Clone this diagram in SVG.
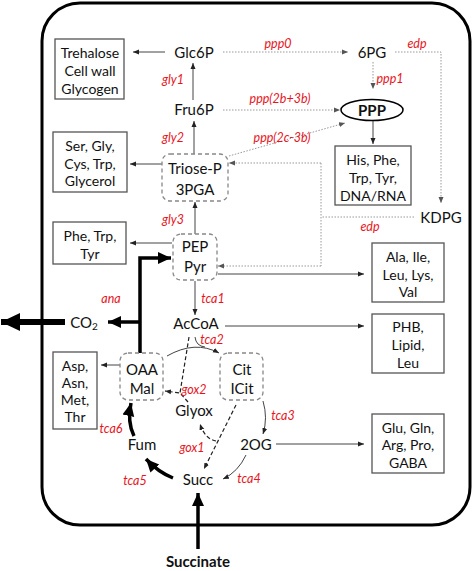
<svg xmlns="http://www.w3.org/2000/svg" width="474" height="571" viewBox="0 0 474 571">
<defs>
<style>
.n{font-family:Lato,"Open Sans",sans-serif;font-size:15px;fill:#111;text-anchor:middle;dominant-baseline:central}
.b{font-family:Lato,"Open Sans",sans-serif;font-size:14px;fill:#111;text-anchor:middle;dominant-baseline:central}
.r{font-family:Lato,"Open Sans",sans-serif;font-size:12.5px;fill:#e8141c;font-style:italic;text-anchor:middle;dominant-baseline:central}
.box{fill:#fff;stroke:#555;stroke-width:1.3}
.dbox{fill:#fff;stroke:#888;stroke-width:1.3;stroke-dasharray:4,3}
.t{fill:none;stroke:#444;stroke-width:1}
.d{fill:none;stroke:#999;stroke-width:1;stroke-dasharray:1.5,1.5}
.ds{fill:none;stroke:#222;stroke-width:1.2;stroke-dasharray:4,2.5}
.k{fill:none;stroke:#000;stroke-width:3.5}
</style>
<marker id="a" markerUnits="userSpaceOnUse" markerWidth="6" markerHeight="6" refX="6" refY="3" orient="auto"><path d="M0,0.5 L6,3 L0,5.5z" fill="#222"/></marker>
<marker id="ad" markerUnits="userSpaceOnUse" markerWidth="6" markerHeight="6" refX="6" refY="3" orient="auto"><path d="M0,0.5 L6,3 L0,5.5z" fill="#555"/></marker>
<marker id="ak" markerUnits="userSpaceOnUse" markerWidth="14" markerHeight="14" refX="13" refY="7" orient="auto"><path d="M0,1 L13,7 L0,13z" fill="#000"/></marker>
<marker id="aK" markerUnits="userSpaceOnUse" markerWidth="20" markerHeight="20" refX="19" refY="10" orient="auto"><path d="M0,1 L19,10 L0,19z" fill="#000"/></marker>
</defs>
<rect x="42" y="3" width="428" height="522" rx="38" ry="38" fill="#fff" stroke="#000" stroke-width="3"/>

<g id="connectors">
<line class="t" x1="165" y1="52" x2="133" y2="52" marker-end="url(#a)"/>
<line class="t" x1="193" y1="100" x2="193" y2="63" marker-end="url(#a)"/>
<line class="t" x1="194" y1="154" x2="194" y2="121" marker-end="url(#a)"/>
<line class="t" x1="162" y1="164" x2="130" y2="164" marker-end="url(#a)"/>
<line class="t" x1="195" y1="234" x2="195" y2="202" marker-end="url(#a)"/>
<line class="t" x1="172" y1="243" x2="130" y2="243" marker-end="url(#a)"/>
<line class="t" x1="195" y1="281" x2="195" y2="315" marker-end="url(#a)"/>
<line class="t" x1="218" y1="274" x2="364" y2="274" marker-end="url(#a)"/>
<line class="t" x1="225" y1="326" x2="364" y2="326" marker-end="url(#a)"/>
<line class="t" x1="373" y1="121" x2="373" y2="144" marker-end="url(#a)"/>
<line class="t" x1="120" y1="365" x2="101" y2="365" marker-end="url(#a)"/>
<line class="t" x1="276" y1="444" x2="364" y2="444" marker-end="url(#a)"/>

<line class="d" x1="223" y1="52" x2="348" y2="52" marker-end="url(#ad)"/>
<polyline class="d" points="395,52 441,52 441,203" marker-end="url(#ad)"/>
<line class="d" x1="373" y1="62" x2="373" y2="89" marker-end="url(#ad)"/>
<line class="d" x1="223" y1="110" x2="340" y2="110" marker-end="url(#ad)"/>
<line class="d" x1="229" y1="156" x2="345" y2="123" marker-end="url(#ad)"/>
<line class="d" x1="414" y1="217" x2="321" y2="217"/>
<polyline class="d" points="321,163 321,266"/>
<line class="d" x1="321" y1="163" x2="229" y2="163" marker-end="url(#ad)"/>
<line class="d" x1="321" y1="266" x2="218" y2="266" marker-end="url(#ad)"/>

<path class="t" d="M167,356 Q195,340 219,353" marker-end="url(#a)"/>
<path class="t" d="M195,337 Q196,346 205,347"/>
<path class="ds" d="M189,337 L180,393"/>
<path class="ds" d="M188,402 L180,393 L165,391" marker-end="url(#a)"/>
<path class="ds" d="M236,405 L204,469" marker-end="url(#a)"/>
<path class="ds" d="M216,441 Q205,439 200,424" marker-end="url(#a)"/>
<path class="t" d="M263,401 Q268,418 263,434" marker-end="url(#a)"/>
<path class="t" d="M246,455 Q238,472 223,479" marker-end="url(#a)"/>
<path class="k" d="M173,478 Q158,472 146,459" marker-end="url(#ak)"/>
<path class="k" d="M134,436 Q127,422 131,403" marker-end="url(#ak)"/>
<polyline class="k" points="140,353 140,258 171,258" marker-end="url(#ak)"/>
<line class="k" x1="140" y1="322" x2="108" y2="322" marker-end="url(#ak)"/>
<line x1="65" y1="322" x2="1" y2="322" stroke="#000" stroke-width="6" marker-end="url(#aK)"/>
<line x1="198" y1="549" x2="198" y2="493" stroke="#000" stroke-width="3.5" marker-end="url(#ak)"/>
</g>

<g id="trehalose"><rect class="box" x="55" y="39" width="69" height="60"/><text class="b" x="90" y="52">Trehalose</text><text class="b" x="90" y="70">Cell wall</text><text class="b" x="90" y="88">Glycogen</text></g>
<g id="glc6p"><text class="n" x="194" y="52">Glc6P</text></g>
<g id="fru6p"><text class="n" x="194" y="109">Fru6P</text></g>
<g id="sixpg"><text class="n" x="372" y="52">6PG</text></g>
<g id="ppp"><ellipse cx="372" cy="110" rx="31" ry="10.5" fill="#fff" stroke="#000" stroke-width="1.5"/><text class="n" x="372" y="110" font-weight="bold">PPP</text></g>
<g id="his"><rect class="box" x="335" y="146" width="76" height="59"/><text class="b" x="373" y="159">His, Phe,</text><text class="b" x="373" y="177">Trp, Tyr,</text><text class="b" x="373" y="195">DNA/RNA</text></g>
<g id="kdpg"><text class="n" x="441" y="217">KDPG</text></g>
<g id="ser"><rect class="box" x="53" y="132" width="74" height="60"/><text class="b" x="90" y="145">Ser, Gly,</text><text class="b" x="90" y="163">Cys, Trp,</text><text class="b" x="90" y="180">Glycerol</text></g>
<g id="triose"><rect class="dbox" x="162" y="154" width="66" height="47" rx="8"/><text class="n" x="195" y="168">Triose-P</text><text class="n" x="195" y="189">3PGA</text></g>
<g id="phe"><rect class="box" x="53" y="222" width="73" height="42"/><text class="b" x="90" y="235">Phe, Trp,</text><text class="b" x="90" y="253">Tyr</text></g>
<g id="pep"><rect class="dbox" x="173" y="234" width="44" height="46" rx="8"/><text class="n" x="195" y="246">PEP</text><text class="n" x="195" y="266">Pyr</text></g>
<g id="ala"><rect class="box" x="372" y="243" width="72" height="59"/><text class="b" x="408" y="256">Ala, Ile,</text><text class="b" x="408" y="274">Leu, Lys,</text><text class="b" x="408" y="291">Val</text></g>
<g id="co2"><text class="n" x="84" y="322">CO<tspan font-size="10" dy="4">2</tspan></text></g>
<g id="accoa"><text class="n" x="196" y="323">AcCoA</text></g>
<g id="phb"><rect class="box" x="372" y="314" width="72" height="59"/><text class="b" x="408" y="326">PHB,</text><text class="b" x="408" y="344">Lipid,</text><text class="b" x="408" y="362">Leu</text></g>
<g id="asp"><rect class="box" x="53" y="352" width="44" height="77"/><text class="b" x="75" y="365">Asp,</text><text class="b" x="75" y="382">Asn,</text><text class="b" x="75" y="399">Met,</text><text class="b" x="75" y="416">Thr</text></g>
<g id="oaa"><rect class="dbox" x="120" y="353" width="43" height="47" rx="8"/><text class="n" x="142" y="369">OAA</text><text class="n" x="142" y="388">Mal</text></g>
<g id="cit"><rect class="dbox" x="220" y="353" width="43" height="47" rx="8"/><text class="n" x="242" y="369">Cit</text><text class="n" x="242" y="388">ICit</text></g>
<g id="glyox"><text class="n" x="194" y="410">Glyox</text></g>
<g id="fum"><text class="n" x="142" y="444">Fum</text></g>
<g id="twoog"><text class="n" x="256" y="444">2OG</text></g>
<g id="glu"><rect class="box" x="372" y="414" width="72" height="59"/><text class="b" x="408" y="427">Glu, Gln,</text><text class="b" x="408" y="444">Arg, Pro,</text><text class="b" x="408" y="462">GABA</text></g>
<g id="succ"><text class="n" x="198" y="479">Succ</text></g>
<g id="succinate"><text class="n" x="198" y="561" font-weight="bold" font-size="20">Succinate</text></g>

<g id="labels">
<text class="r" x="173" y="79">gly1</text>
<text class="r" x="173" y="137">gly2</text>
<text class="r" x="173" y="219">gly3</text>
<text class="r" x="278" y="43">ppp0</text>
<text class="r" x="417" y="43">edp</text>
<text class="r" x="390" y="78">ppp1</text>
<text class="r" x="280" y="98">ppp(2b+3b)</text>
<text class="r" x="282" y="137">ppp(2c-3b)</text>
<text class="r" x="370" y="226">edp</text>
<text class="r" x="111" y="298">ana</text>
<text class="r" x="213" y="298">tca1</text>
<text class="r" x="212" y="339">tca2</text>
<text class="r" x="194" y="389">gox2</text>
<text class="r" x="283" y="415">tca3</text>
<text class="r" x="192" y="447">gox1</text>
<text class="r" x="249" y="478">tca4</text>
<text class="r" x="135" y="480">tca5</text>
<text class="r" x="111" y="428">tca6</text>
</g>
</svg>
